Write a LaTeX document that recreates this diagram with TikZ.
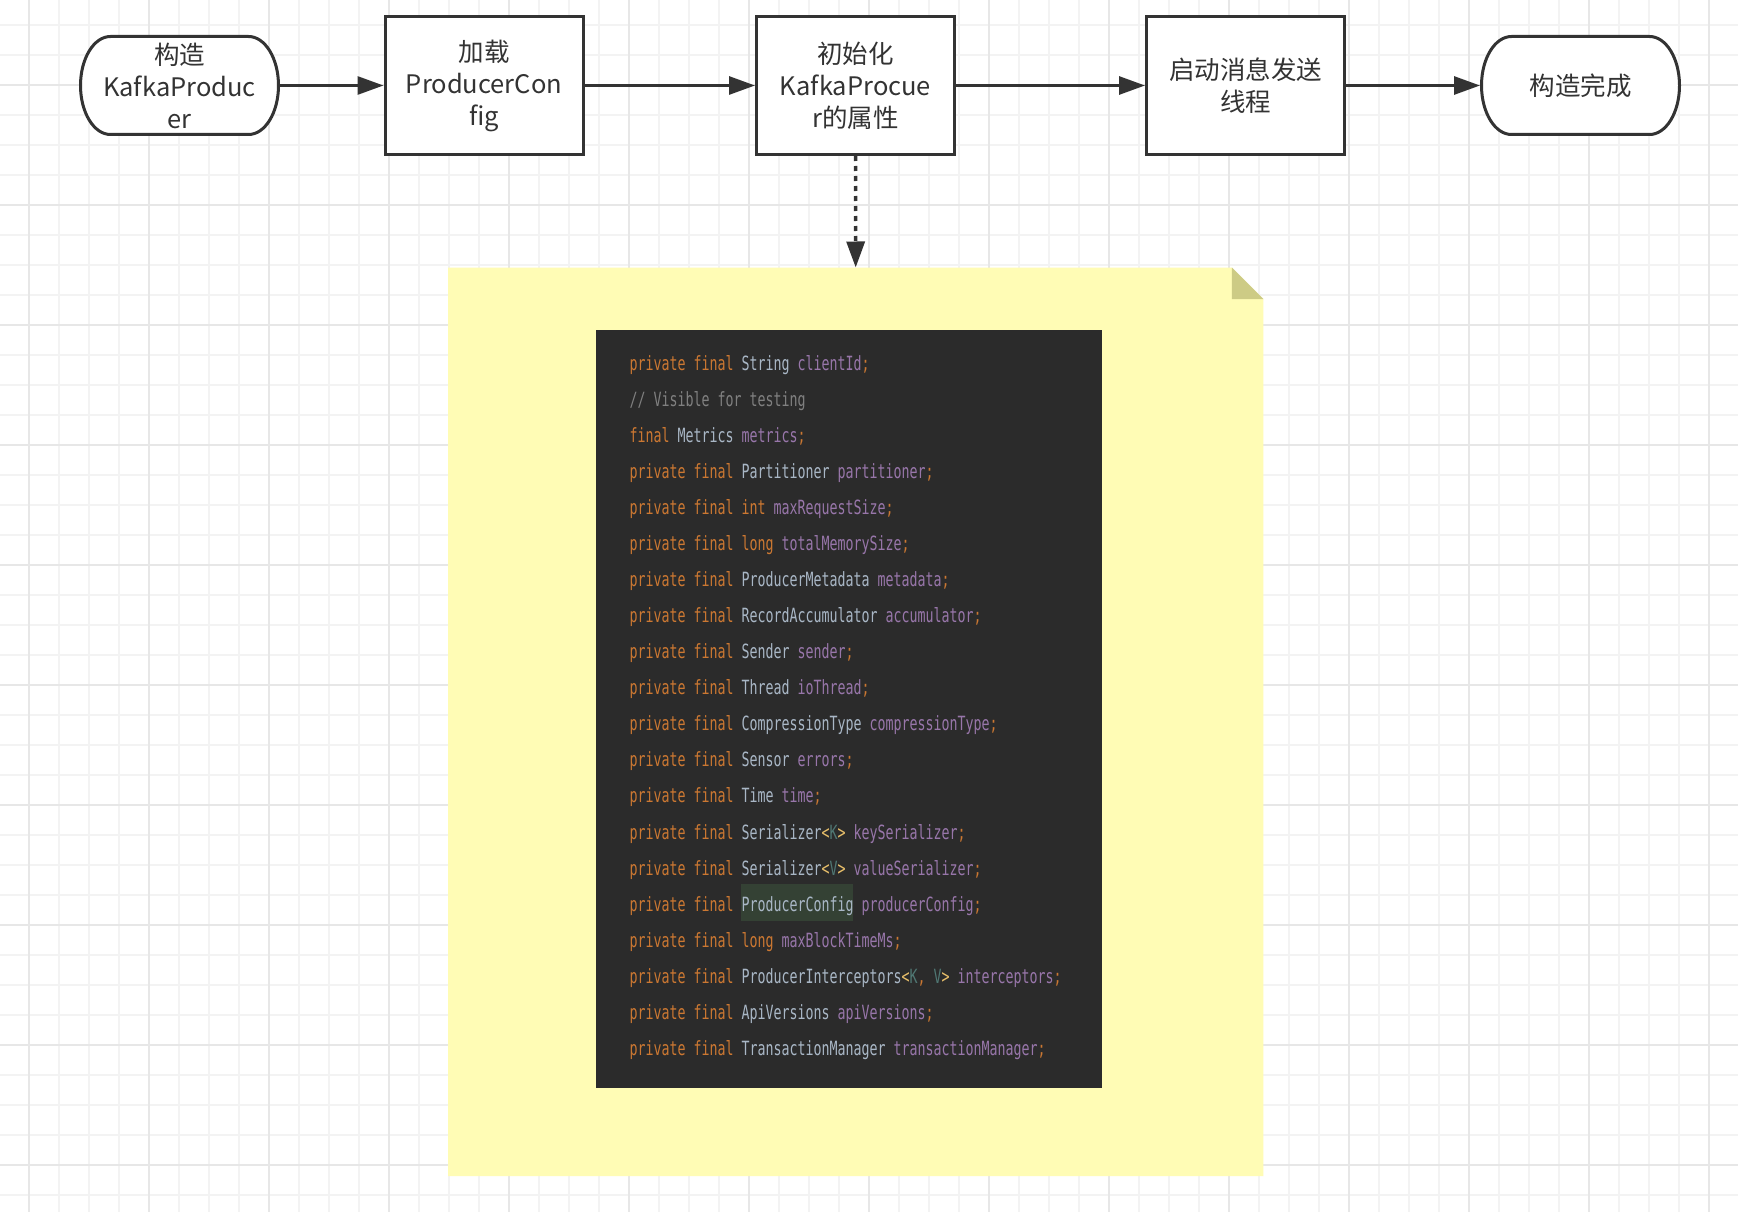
\documentclass[tikz,border=0pt]{standalone}
\usepackage{fontspec}
\usetikzlibrary{arrows.meta}
\newfontfamily\lblfont{Noto Sans CJK SC}
\newfontfamily\codefont[FakeStretch=0.678]{DejaVu Sans Mono}
\pgfdeclarelayer{bg}
\pgfsetlayers{bg,main}
\definecolor{linecol}{HTML}{333333}
\definecolor{labeltext}{HTML}{333333}
\definecolor{noteyellow}{RGB}{255,252,181}
\definecolor{notefold}{RGB}{205,203,133}
\definecolor{codebg}{HTML}{2B2B2B}
\definecolor{codekw}{HTML}{CC7832}
\definecolor{codepl}{HTML}{A9B7C6}
\definecolor{codefd}{HTML}{9876AA}
\definecolor{codecm}{HTML}{808080}
\definecolor{codetp}{HTML}{507874}
\definecolor{codebr}{HTML}{E8BF6A}
\definecolor{codehl}{HTML}{344134}
\definecolor{gridminorcol}{RGB}{243,243,243}
\definecolor{gridmajorcol}{RGB}{231,231,231}
\newcommand\ckw[1]{\textcolor{codekw}{#1}}
\newcommand\cpl[1]{\textcolor{codepl}{#1}}
\newcommand\cfd[1]{\textcolor{codefd}{#1}}
\newcommand\ccm[1]{\textcolor{codecm}{#1}}
\newcommand\ctp[1]{\textcolor{codetp}{#1}}
\newcommand\cbr[1]{\textcolor{codebr}{#1}}
\begin{document}
\begin{tikzpicture}[x=1pt,y=-1pt,
  gminor/.style={draw=gridminorcol,line width=1.8pt},
  gmajor/.style={draw=gridmajorcol,line width=2pt},
  lbl/.style={font=\lblfont\fontsize{25.5}{32}\selectfont,text=labeltext,align=center,inner sep=0pt},
  procbox/.style={lbl,draw=linecol,line width=3pt,fill=white,minimum width=198pt,minimum height=138pt},
  termbox/.style={lbl,minimum width=198pt,minimum height=98pt,outer sep=0pt},
  termline/.style={draw=linecol,line width=3pt,fill=white},
  flow/.style={draw=linecol,line width=3pt,-{Triangle[length=26pt,width=18pt]}},
  dotflow/.style={draw=linecol,line width=3.5pt,dash pattern=on 5pt off 5pt,-{Triangle[length=26pt,width=18pt]}},
  notebox/.style={inner sep=0pt,outer sep=0pt,minimum width=815.4pt,minimum height=908.5pt},
  codepanel/.style={fill=codebg,inner sep=0pt,outer sep=0pt,minimum width=506pt,minimum height=758pt},
  codeln/.style={anchor=base west,inner sep=0pt,font=\codefont\fontsize{19.6}{20}\selectfont}]
\useasboundingbox (0,0) rectangle (1738,1212);
\begin{pgfonlayer}{bg}
\fill[white] (0,0) rectangle (1738,1212);
\foreach \gx in {29,59,...,1709} \draw[gminor] (\gx,0) -- (\gx,1212);
\foreach \gy in {25,55,...,1195} \draw[gminor] (0,\gy) -- (1738,\gy);
\foreach \gx in {29,149,...,1709} \draw[gmajor] (\gx,0) -- (\gx,1212);
\foreach \gy in {85,205,...,1165} \draw[gmajor] (0,\gy) -- (1738,\gy);
\end{pgfonlayer}

% flow nodes
\node[termbox] (n1) at (179.5,85.5) {构造\\KafkaProduc\\er};
\node[procbox] (n2) at (484,85.5) {加载\\ProducerCon\\fig};
\node[procbox] (n3) at (855.5,85.5) {初始化\\KafkaProcue\\r的属性};
\node[procbox] (n4) at (1245.5,85.5) {启动消息发送\\线程};
\node[termbox] (n5) at (1580.5,85.5) {构造完成};

\begin{pgfonlayer}{bg}
\draw[termline] ([xshift=30pt]n1.north west) -- ([xshift=-30pt]n1.north east)
  arc[start angle=-90,end angle=90,x radius=30,y radius=49]
  -- ([xshift=30pt]n1.south west)
  arc[start angle=90,end angle=270,x radius=30,y radius=49] -- cycle;
\draw[termline] ([xshift=30pt]n5.north west) -- ([xshift=-30pt]n5.north east)
  arc[start angle=-90,end angle=90,x radius=30,y radius=49]
  -- ([xshift=30pt]n5.south west)
  arc[start angle=90,end angle=270,x radius=30,y radius=49] -- cycle;
\end{pgfonlayer}

% note
\node[notebox] (note) at (855.7,721.75) {};
\fill[noteyellow] (note.north west) -- ([xshift=-31.5pt]note.north east)
  -- ([yshift=-31.5pt]note.north east) -- (note.south east) -- (note.south west) -- cycle;
\fill[notefold] ([xshift=-31.5pt]note.north east) -- ([xshift=-31.5pt,yshift=-31.5pt]note.north east)
  -- ([yshift=-31.5pt]note.north east) -- cycle;

% code panel
\node[codepanel] (code) at (849,709) {};
\fill[codehl] (741.3,884) rectangle (853.3,921);
\node[codeln] (c1) at (629.3,370.00) {\ckw{private final} \cpl{String} \cfd{clientId}\ckw{;}};
\node[codeln] (c2) at (629.3,406.08) {\ccm{// Visible for testing}};
\node[codeln] (c3) at (629.3,442.16) {\ckw{final} \cpl{Metrics} \cfd{metrics}\ckw{;}};
\node[codeln] (c4) at (629.3,478.24) {\ckw{private final} \cpl{Partitioner} \cfd{partitioner}\ckw{;}};
\node[codeln] (c5) at (629.3,514.32) {\ckw{private final int} \cfd{maxRequestSize}\ckw{;}};
\node[codeln] (c6) at (629.3,550.40) {\ckw{private final long} \cfd{totalMemorySize}\ckw{;}};
\node[codeln] (c7) at (629.3,586.48) {\ckw{private final} \cpl{ProducerMetadata} \cfd{metadata}\ckw{;}};
\node[codeln] (c8) at (629.3,622.56) {\ckw{private final} \cpl{RecordAccumulator} \cfd{accumulator}\ckw{;}};
\node[codeln] (c9) at (629.3,658.64) {\ckw{private final} \cpl{Sender} \cfd{sender}\ckw{;}};
\node[codeln] (c10) at (629.3,694.72) {\ckw{private final} \cpl{Thread} \cfd{ioThread}\ckw{;}};
\node[codeln] (c11) at (629.3,730.80) {\ckw{private final} \cpl{CompressionType} \cfd{compressionType}\ckw{;}};
\node[codeln] (c12) at (629.3,766.88) {\ckw{private final} \cpl{Sensor} \cfd{errors}\ckw{;}};
\node[codeln] (c13) at (629.3,802.96) {\ckw{private final} \cpl{Time} \cfd{time}\ckw{;}};
\node[codeln] (c14) at (629.3,839.04) {\ckw{private final} \cpl{Serializer}\cbr{<}\ctp{K}\cbr{>} \cfd{keySerializer}\ckw{;}};
\node[codeln] (c15) at (629.3,875.12) {\ckw{private final} \cpl{Serializer}\cbr{<}\ctp{V}\cbr{>} \cfd{valueSerializer}\ckw{;}};
\node[codeln] (c16) at (629.3,911.20) {\ckw{private final} \cpl{ProducerConfig} \cfd{producerConfig}\ckw{;}};
\node[codeln] (c17) at (629.3,947.28) {\ckw{private final long} \cfd{maxBlockTimeMs}\ckw{;}};
\node[codeln] (c18) at (629.3,983.36) {\ckw{private final} \cpl{ProducerInterceptors}\cbr{<}\ctp{K}\ckw{,} \ctp{V}\cbr{>} \cfd{interceptors}\ckw{;}};
\node[codeln] (c19) at (629.3,1019.44) {\ckw{private final} \cpl{ApiVersions} \cfd{apiVersions}\ckw{;}};
\node[codeln] (c20) at (629.3,1055.52) {\ckw{private final} \cpl{TransactionManager} \cfd{transactionManager}\ckw{;}};

% connectors
\draw[flow] ([xshift=1.5pt]n1.east) -- (n2.west);
\draw[flow] (n2.east) -- (n3.west);
\draw[flow] (n3.east) -- (n4.west);
\draw[flow] (n4.east) -- ([xshift=-1.5pt]n5.west);
\draw[dotflow] (n3.south) -- (note.north);
\end{tikzpicture}
\end{document}
